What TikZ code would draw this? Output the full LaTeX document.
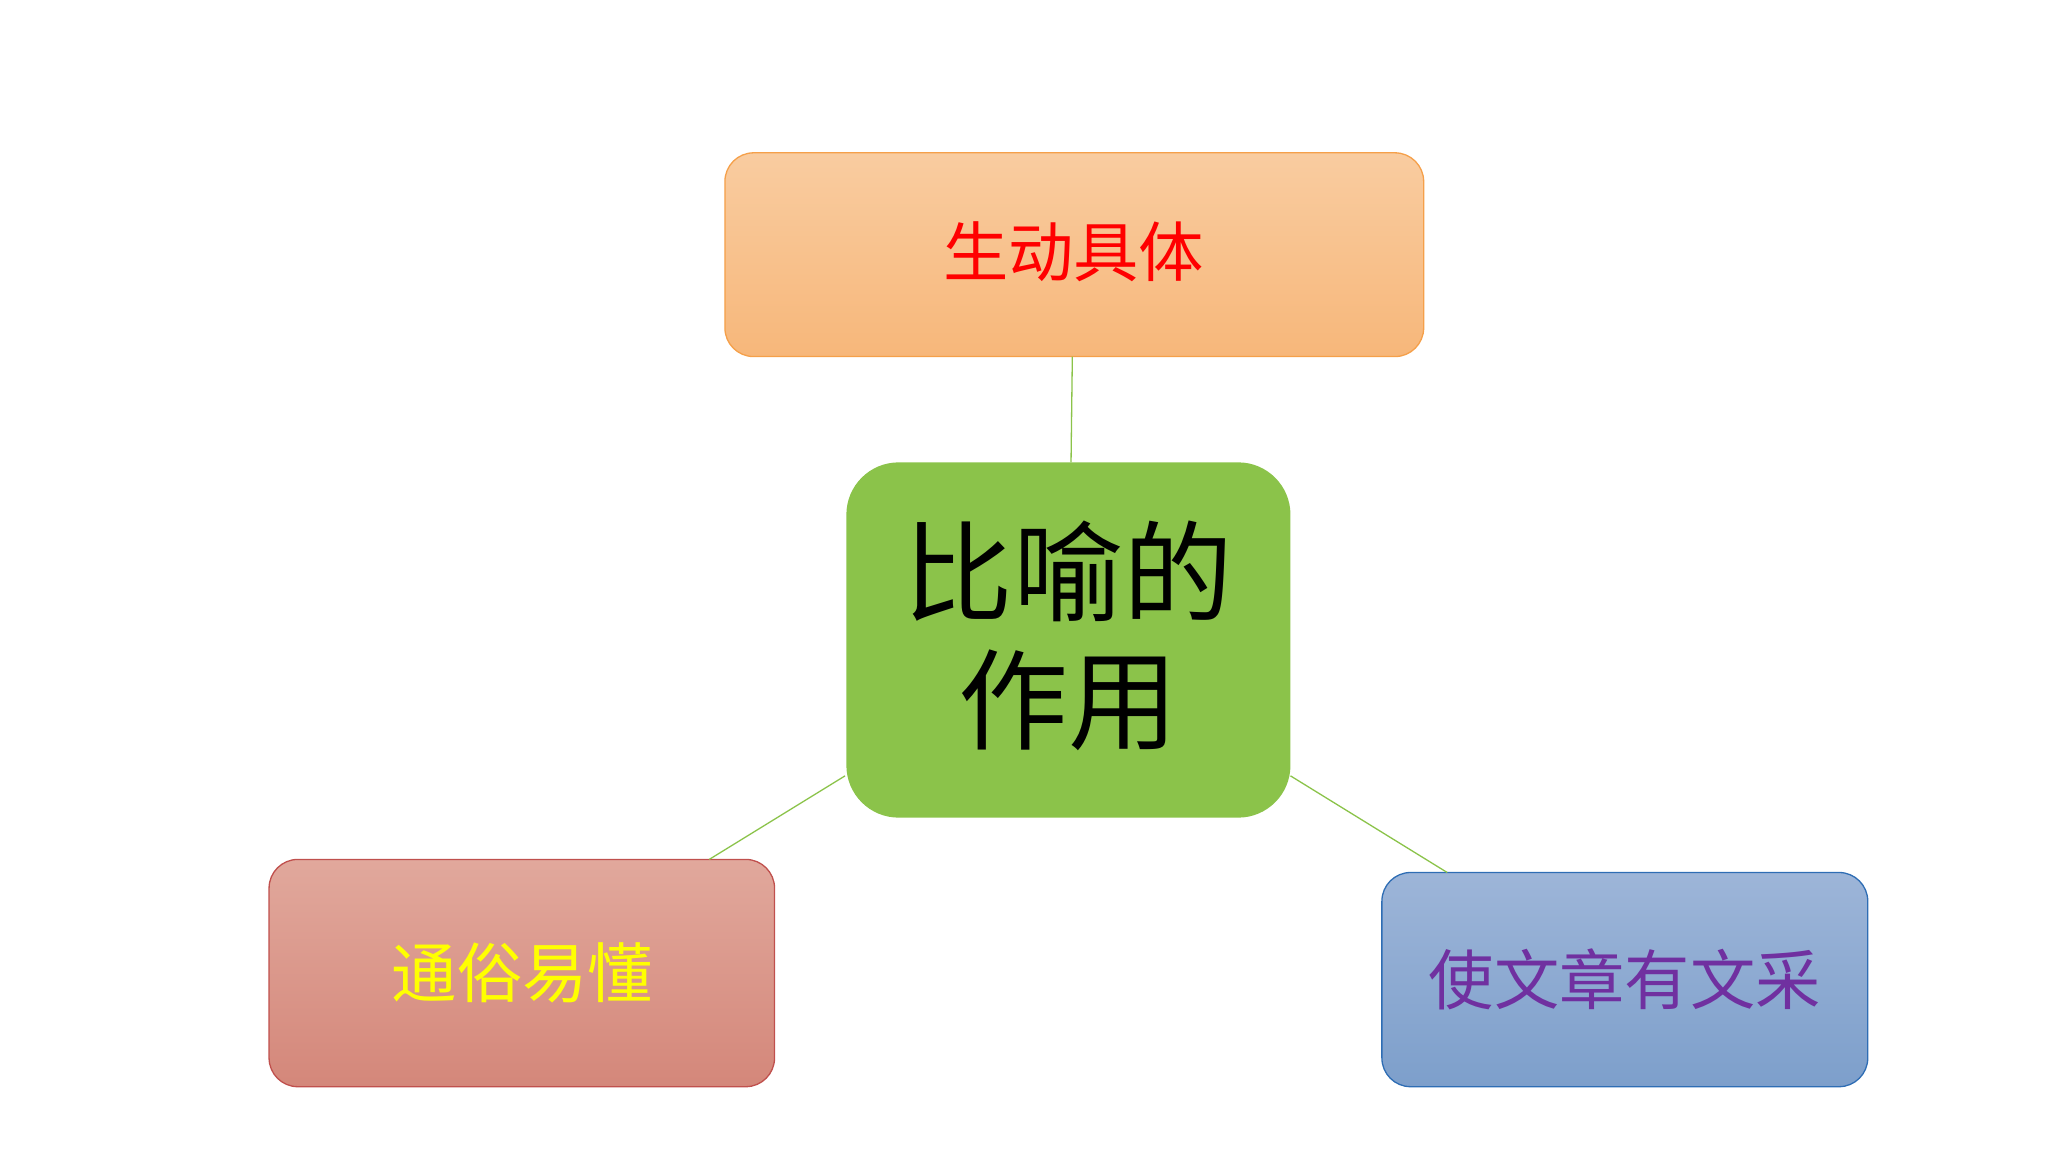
\documentclass[tikz,border=0pt]{standalone}
\usepackage{fontspec}
\newfontfamily\cjk{Noto Sans CJK SC}
\definecolor{topA}{HTML}{F9CCA0}\definecolor{topB}{HTML}{F7B77A}\definecolor{topD}{HTML}{F5A04A}
\definecolor{grn}{HTML}{8BC34A}\definecolor{lineg}{HTML}{8BC34A}
\definecolor{redA}{HTML}{E1A89C}\definecolor{redB}{HTML}{D4877A}\definecolor{redD}{HTML}{C0504D}
\definecolor{bluA}{HTML}{9DB5D8}\definecolor{bluB}{HTML}{7D9FCB}\definecolor{bluD}{HTML}{2E6DB4}
\definecolor{purp}{HTML}{7030A0}\definecolor{yel}{HTML}{FFFF00}
\begin{document}
\begin{tikzpicture}[x=1pt,y=-1pt,
 box/.style={rounded corners=22pt,line width=1pt},
 lab/.style={font=\cjk\fontsize{50}{56}\selectfont},
 conn/.style={lineg,line width=1pt}]
\useasboundingbox (0,0) rectangle (1568,882);
\shade[box,top color=topA,bottom color=topB,draw=topD] (555,117) rectangle (1090,273);
\node[lab,text=red] (t) at (822,193) {生动具体};
\fill[grn,rounded corners=40pt] (648,354) rectangle (988,626);
\node[font=\cjk\fontsize{84}{98}\selectfont,align=center] (c) at (818,487) {比喻的\\作用};
\shade[box,top color=redA,bottom color=redB,draw=redD] (206,658) rectangle (593,832);
\node[lab,text=yel] (l) at (400,745) {通俗易懂};
\shade[box,top color=bluA,bottom color=bluB,draw=bluD] (1058,668) rectangle (1430,832);
\node[lab,text=purp] (r) at (1244,750) {使文章有文采};
\coordinate (t1) at (821,273); \coordinate (t2) at (820,354);
\coordinate (l1) at (647,594); \coordinate (l2) at (543,658);
\coordinate (r1) at (988,594); \coordinate (r2) at (1108,668);
\draw[conn] (t1)--(t2); \draw[conn] (l1)--(l2); \draw[conn] (r1)--(r2);
\end{tikzpicture}
\end{document}
